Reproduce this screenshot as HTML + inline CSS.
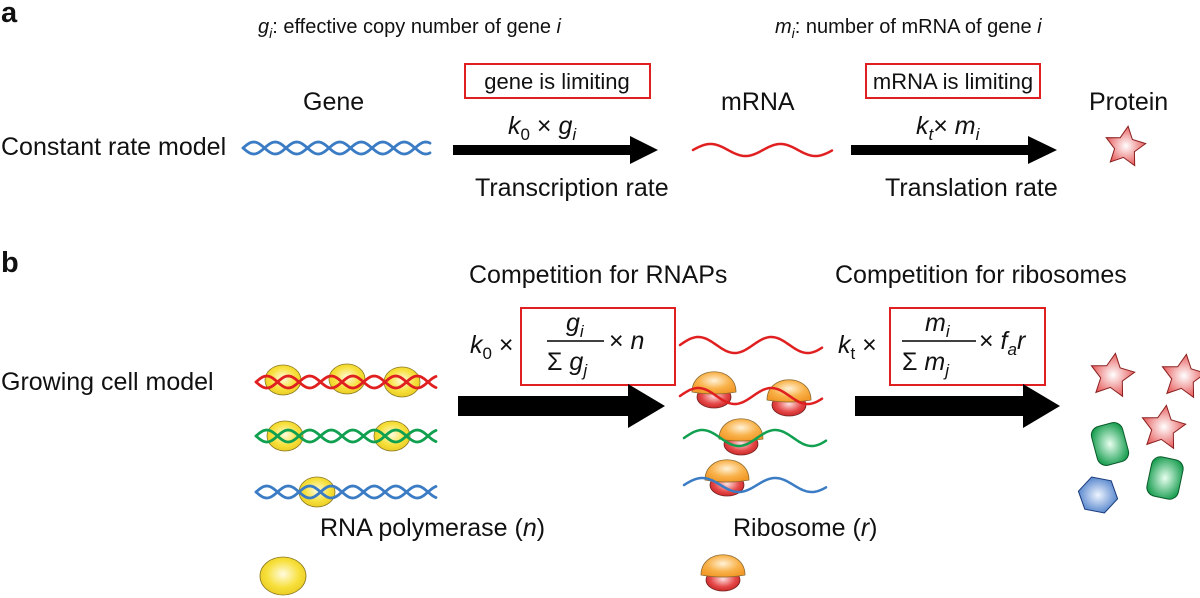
<!DOCTYPE html>
<html><head><meta charset="utf-8"><style>
body{margin:0;background:#fff}
svg{display:block}
text{font-family:"Liberation Sans",Arial,sans-serif;fill:#111}
</style></head><body>
<svg id="s" width="1200" height="598" viewBox="0 0 1200 598" xmlns="http://www.w3.org/2000/svg">
<defs>
<radialGradient id="yel" cx="50%" cy="45%" r="60%"><stop offset="0" stop-color="#fffbe0"/><stop offset="0.6" stop-color="#f7e03a"/><stop offset="1" stop-color="#e8c820"/></radialGradient>
<radialGradient id="org" cx="50%" cy="40%" r="60%"><stop offset="0" stop-color="#fff2d8"/><stop offset="0.6" stop-color="#f9b24a"/><stop offset="1" stop-color="#f29a2a"/></radialGradient>
<radialGradient id="red" cx="50%" cy="45%" r="60%"><stop offset="0" stop-color="#fde0e0"/><stop offset="0.6" stop-color="#e64a4a"/><stop offset="1" stop-color="#c42020"/></radialGradient>
<radialGradient id="pink" cx="50%" cy="50%" r="55%"><stop offset="0" stop-color="#fff"/><stop offset="1" stop-color="#e65050"/></radialGradient>
<radialGradient id="grn" cx="50%" cy="50%" r="60%"><stop offset="0" stop-color="#e8fff0"/><stop offset="1" stop-color="#119a4a"/></radialGradient>
<radialGradient id="blu" cx="50%" cy="50%" r="60%"><stop offset="0" stop-color="#eef4ff"/><stop offset="1" stop-color="#3d74c4"/></radialGradient>
</defs>
<g id="dyn"></g>

<!-- panel a -->
<text x="1" y="22" font-size="29" font-weight="bold">a</text>
<text x="258" y="33" font-size="20"><tspan font-style="italic">g</tspan><tspan font-size="14" font-style="italic" dy="5">i</tspan><tspan dy="-5">: effective copy number of gene </tspan><tspan font-style="italic">i</tspan></text>
<text x="775" y="33" font-size="20"><tspan font-style="italic">m</tspan><tspan font-size="14" font-style="italic" dy="5">i</tspan><tspan dy="-5">: number of mRNA of gene </tspan><tspan font-style="italic">i</tspan></text>
<text x="303" y="110" font-size="25">Gene</text>
<text x="721" y="110" font-size="25">mRNA</text>
<text x="1089" y="110" font-size="25">Protein</text>
<text x="1" y="155" font-size="25">Constant rate model</text>
<rect x="465" y="64" width="185" height="34" fill="none" stroke="#e02020" stroke-width="2"/>
<text x="557" y="89" font-size="22" text-anchor="middle">gene is limiting</text>
<rect x="866" y="64" width="174" height="34" fill="none" stroke="#e02020" stroke-width="2"/>
<text x="953" y="89" font-size="22" text-anchor="middle">mRNA is limiting</text>
<text x="508" y="134" font-size="25"><tspan font-style="italic">k</tspan><tspan font-size="17" dy="6">0</tspan><tspan dy="-6"> × </tspan><tspan font-style="italic">g</tspan><tspan font-size="17" font-style="italic" dy="6">i</tspan></text>
<text x="916" y="134" font-size="25"><tspan font-style="italic">k</tspan><tspan font-size="17" font-style="italic" dy="6">t</tspan><tspan dy="-6">× </tspan><tspan font-style="italic">m</tspan><tspan font-size="17" font-style="italic" dy="6">i</tspan></text>
<rect x="453" y="145" width="180" height="10" fill="#000"/><polygon points="630,136 658,150 630,164" fill="#000"/>
<rect x="851" y="145" width="180" height="10" fill="#000"/><polygon points="1028,136 1057,150 1028,164" fill="#000"/>
<text x="475" y="196" font-size="25">Transcription rate</text>
<text x="885" y="196" font-size="25">Translation rate</text>

<!-- panel b -->
<text x="1" y="272" font-size="29" font-weight="bold">b</text>
<text x="469" y="283" font-size="25">Competition for RNAPs</text>
<text x="835" y="283" font-size="25">Competition for ribosomes</text>
<text x="1" y="390" font-size="25">Growing cell model</text>
<rect x="521" y="308" width="154" height="77" fill="none" stroke="#e02020" stroke-width="2"/>
<text x="470" y="353" font-size="25"><tspan font-style="italic">k</tspan><tspan font-size="17" dy="6">0</tspan><tspan dy="-6"> ×</tspan></text>
<text x="566" y="331" font-size="25"><tspan font-style="italic">g</tspan><tspan font-size="17" font-style="italic" dy="6">i</tspan></text>
<line x1="547" y1="341" x2="604" y2="341" stroke="#000" stroke-width="1.5"/>
<text x="547" y="370" font-size="25">Σ <tspan font-style="italic">g</tspan><tspan font-size="17" font-style="italic" dy="6">j</tspan></text>
<text x="609" y="349" font-size="25">× <tspan font-style="italic">n</tspan></text>
<rect x="890" y="308" width="155" height="77" fill="none" stroke="#e02020" stroke-width="2"/>
<text x="838" y="353" font-size="25"><tspan font-style="italic">k</tspan><tspan font-size="17" dy="6">t</tspan><tspan dy="-6"> ×</tspan></text>
<text x="925" y="331" font-size="25"><tspan font-style="italic">m</tspan><tspan font-size="17" font-style="italic" dy="6">i</tspan></text>
<line x1="902" y1="341" x2="976" y2="341" stroke="#000" stroke-width="1.5"/>
<text x="902" y="370" font-size="25">Σ <tspan font-style="italic">m</tspan><tspan font-size="17" font-style="italic" dy="6">j</tspan></text>
<text x="979" y="349" font-size="25">× <tspan font-style="italic">f</tspan><tspan font-size="17" font-style="italic" dy="6">a</tspan><tspan dy="-6" font-style="italic">r</tspan></text>
<rect x="458" y="396" width="172" height="20" fill="#000"/><polygon points="628,384 665,406 628,428" fill="#000"/>
<rect x="855" y="396" width="170" height="20" fill="#000"/><polygon points="1023,384 1060,406 1023,428" fill="#000"/>
<text x="320" y="536" font-size="25">RNA polymerase (<tspan font-style="italic">n</tspan>)</text>
<text x="733" y="536" font-size="25">Ribosome (<tspan font-style="italic">r</tspan>)</text>
<ellipse cx="283" cy="576" rx="23" ry="19" fill="url(#yel)" stroke="#8a7a20" stroke-width="0.8"/>
</svg>
<script>
var NS="http://www.w3.org/2000/svg",g=document.getElementById("dyn");
function el(t,a){var e=document.createElementNS(NS,t);for(var k in a)e.setAttribute(k,a[k]);g.appendChild(e);return e;}
function wave(x0,x1,y,amp,per,ph,col,w){var d="";for(var x=x0;x<=x1;x+=1){var yy=y+amp*Math.sin((x-x0)/per*2*Math.PI+ph);d+=(d?"L":"M")+x+","+yy.toFixed(2);}el("path",{d:d,fill:"none",stroke:col,"stroke-width":w,"stroke-linecap":"round"});}
function helix(x0,x1,y,col){wave(x0,x1,y,6,43,0,col,2.8);wave(x0,x1,y,6,43,Math.PI,col,2.8);}
function pol(cx,cy){el("ellipse",{cx:cx,cy:cy,rx:18,ry:15,fill:"url(#yel)",stroke:"#8a7a20","stroke-width":0.8});}
function ribo(cx,cy){el("ellipse",{cx:cx,cy:cy+10,rx:17,ry:11,fill:"url(#red)",stroke:"#702020","stroke-width":0.8});
 el("path",{d:"M"+(cx-22)+","+(cy+5)+" C"+(cx-22)+","+(cy-22)+" "+(cx+22)+","+(cy-22)+" "+(cx+22)+","+(cy+5)+" Q"+cx+","+(cy+9)+" "+(cx-22)+","+(cy+5)+"Z",fill:"url(#org)",stroke:"#8a6a30","stroke-width":0.8});}
helix(243,430,148,"#3b7cc4");
wave(693,832,150,6,70,Math.PI,"#e02020",2.5);
pol(283,380);pol(347,379);pol(402,382);helix(256,436,382,"#e02020");
pol(285,436);pol(392,436);helix(256,436,436,"#10a050");
pol(317,492);helix(256,436,492,"#3b7cc4");
wave(680,822,345,8,73,Math.PI,"#e02020",2.5);
ribo(714,387);ribo(789,395);wave(680,822,396,8,73,Math.PI,"#e02020",2.5);
ribo(741,434);wave(684,826,438,8,73,Math.PI,"#10a050",2.5);
ribo(727,475);wave(684,826,485,7,73,Math.PI,"#3b7cc4",2.5);
ribo(723,570);
function star(cx,cy,R){var p=[];for(var i=0;i<10;i++){var r=i%2?R*0.5:R,a=-Math.PI/2+i*Math.PI/5+0.15;p.push((cx+r*Math.cos(a)).toFixed(1)+","+(cy+r*Math.sin(a)).toFixed(1));}el("polygon",{points:p.join(" "),fill:"url(#pink)",stroke:"#8a2020","stroke-width":1});}
star(1125,147,21);star(1112,376,23);star(1183,377,23);star(1163,428,23);
el("rect",{x:-16,y:-20,width:32,height:40,rx:9,fill:"url(#grn)",stroke:"#0a5a2a",transform:"translate(1110,444) rotate(-15)"});
el("rect",{x:-16,y:-20,width:32,height:40,rx:9,fill:"url(#grn)",stroke:"#0a5a2a",transform:"translate(1165,478) rotate(12)"});
var hp=[];for(var i=0;i<6;i++){var a=i*Math.PI/3+0.2;hp.push((1098+20*Math.cos(a)).toFixed(1)+","+(495+19*Math.sin(a)).toFixed(1));}
el("polygon",{points:hp.join(" "),fill:"url(#blu)",stroke:"#1a3a7a","stroke-width":1});
</script>
</body></html>
